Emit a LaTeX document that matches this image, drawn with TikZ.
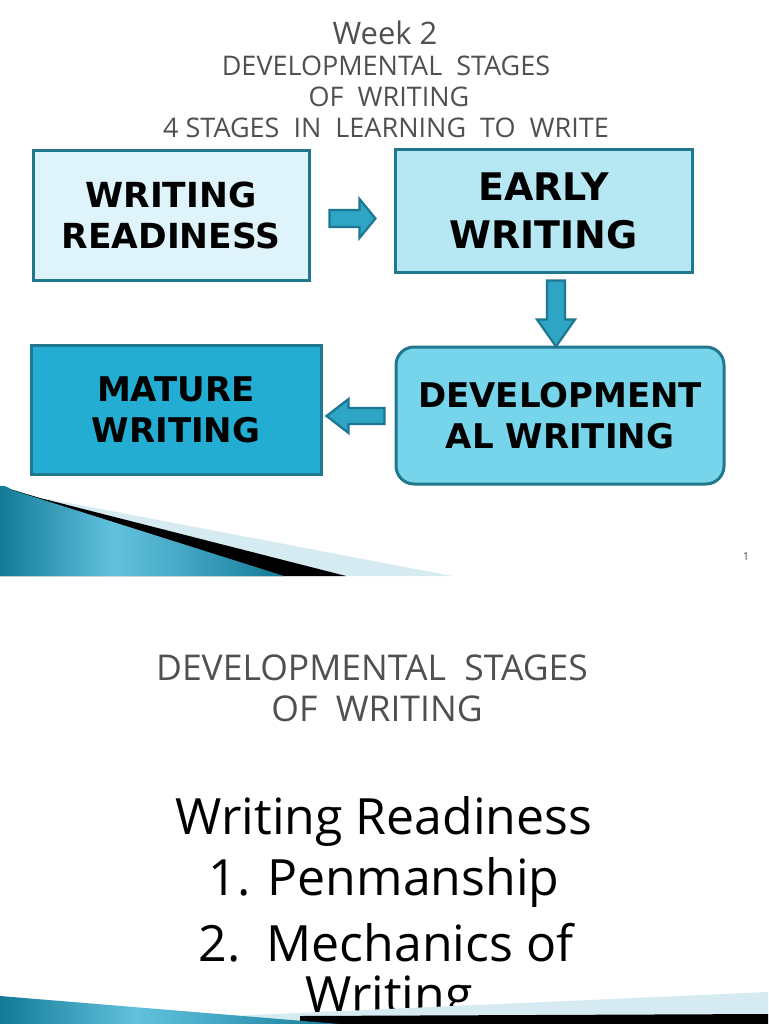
\documentclass[tikz,border=0pt]{standalone}
\usepackage{fontspec}
\setmainfont{Open Sans}
\newfontfamily\boxfont{DejaVu Sans}
\usetikzlibrary{calc}
\definecolor{titlegray}{HTML}{505050}
\definecolor{edge}{HTML}{21778E}
\definecolor{fillA}{HTML}{DFF4FA}
\definecolor{fillB}{HTML}{B5E8F3}
\definecolor{fillC}{HTML}{23ADD2}
\definecolor{fillD}{HTML}{76D5EA}
\definecolor{arrfill}{HTML}{2EA5C5}
\definecolor{arredge}{HTML}{1E7791}
\definecolor{swlight}{HTML}{D6EAF2}
\definecolor{tealdark}{HTML}{127A96}
\definecolor{teallight}{HTML}{62C2DE}
\pgfdeclarehorizontalshading{tealswoosh}{100bp}{
  color(0bp)=(tealdark); color(25bp)=(tealdark); color(45bp)=(teallight);
  color(55bp)=(teallight!70!tealdark); color(75bp)=(tealdark); color(100bp)=(tealdark)}
\tikzset{
  titletext/.style={text=titlegray, inner sep=0pt, align=center},
  stagebox/.style={draw=edge, line width=3pt, inner sep=0pt, align=center, font=\boxfont\bfseries},
  blockarr/.style={fill=arrfill, draw=arredge, line width=2.2pt, line join=miter},
  bodytext/.style={text=black, inner sep=0pt, align=center, font=\fontsize{50}{60}\selectfont},
  swoosh/.style={shading=tealswoosh},
}
\begin{document}
\begin{tikzpicture}[x=1pt, y=-1pt]
\useasboundingbox (0,0) rectangle (768,1024);
\fill[white] (0,0) rectangle (768,1024);

% ---------- slide 1 ----------
\node[titletext, font=\fontsize{31}{36}\selectfont] (wk) at (385,33) {Week 2};
\node[titletext, font=\fontsize{27}{31}\selectfont] (t1) at (386,66) {DEVELOPMENTAL\ \ STAGES};
\node[titletext, font=\fontsize{27}{31}\selectfont] (t2) at (389,97) {OF\ \ WRITING};
\node[titletext, font=\fontsize{27}{31}\selectfont] (t3) at (386,128) {4 STAGES\ \ IN\ \ LEARNING\ \ TO\ \ WRITE};

\node[stagebox, fill=fillA, minimum width=276pt, minimum height=129pt,
      font=\boxfont\bfseries\fontsize{34.5}{41}\selectfont] (wr) at (171,215.5) {WRITING\\READINESS};
\node[stagebox, fill=fillB, minimum width=297pt, minimum height=122pt,
      font=\boxfont\bfseries\fontsize{38}{48}\selectfont] (ew) at (543.5,211) {EARLY\\WRITING};
\node[stagebox, fill=fillC, minimum width=290pt, minimum height=129pt,
      font=\boxfont\bfseries\fontsize{34}{41}\selectfont] (mw) at (176,409.5) {MATURE\\WRITING};
\node[stagebox, fill=fillD, minimum width=328pt, minimum height=137pt, rounded corners=18pt,
      font=\boxfont\bfseries\fontsize{34}{41}\selectfont] (dw) at (560,415.5) {DEVELOPMENT\\AL WRITING};

% block arrows between the boxes
\draw[blockarr] ($(wr.east)+(19,-5.5)$) -- ++(30,0) -- ++(0,-11) -- ++(16,19.5) -- ++(-16,19.5) -- ++(0,-11) -- ++(-30,0) -- cycle;
\draw[blockarr] ($(ew.south)+(3.5,7)$) -- ++(18,0) -- ++(0,39) -- ++(10,0) -- ++(-19,27) -- ++(-19,-27) -- ++(10,0) -- cycle;
\draw[blockarr] ($(dw.west)+(-10,-7.5)$) -- ++(-36,0) -- ++(0,-9) -- ++(-22,17) -- ++(22,17) -- ++(0,-9) -- ++(36,0) -- cycle;

\node[text=titlegray, inner sep=0pt, font=\fontsize{11}{12}\selectfont] (pg) at (746,557) {1};

% slide 1 swoosh
\fill[swlight] (48,499) -- (452,576) -- (0,576) -- cycle;
\fill[black] (40,498) -- (346,576) -- (0,576) -- (0,486) -- cycle;
\shade[swoosh]
  (0,486) .. controls (4,485) and (8,487) .. (12,490) -- (284,576) -- (0,576) -- cycle;

% ---------- slide 2 ----------
\node[titletext, font=\fontsize{35.5}{41}\selectfont] (s1) at (372,668) {DEVELOPMENTAL\ \ STAGES};
\node[titletext, font=\fontsize{35.5}{41}\selectfont] (s2) at (377,709) {OF\ \ WRITING};

\node[bodytext] (b1) at (384,822) {Writing Readiness};
\node[bodytext] (b2) at (384,883) {1. Penmanship};
\node[bodytext] (b3) at (386,943) {2.\ \ Mechanics of};
\node[bodytext] (b4) at (389,1000) {Writing};

% slide 2 swoosh
\fill[swlight] (230,1016) -- (768,992) -- (768,1024) -- (230,1024) -- cycle;
\fill[black] (300,1016) -- (768,1014) -- (768,1024) -- (300,1024) -- cycle;
\shade[swoosh] (0,996) -- (340,1024) -- (0,1024) -- cycle;
\end{tikzpicture}
\end{document}
